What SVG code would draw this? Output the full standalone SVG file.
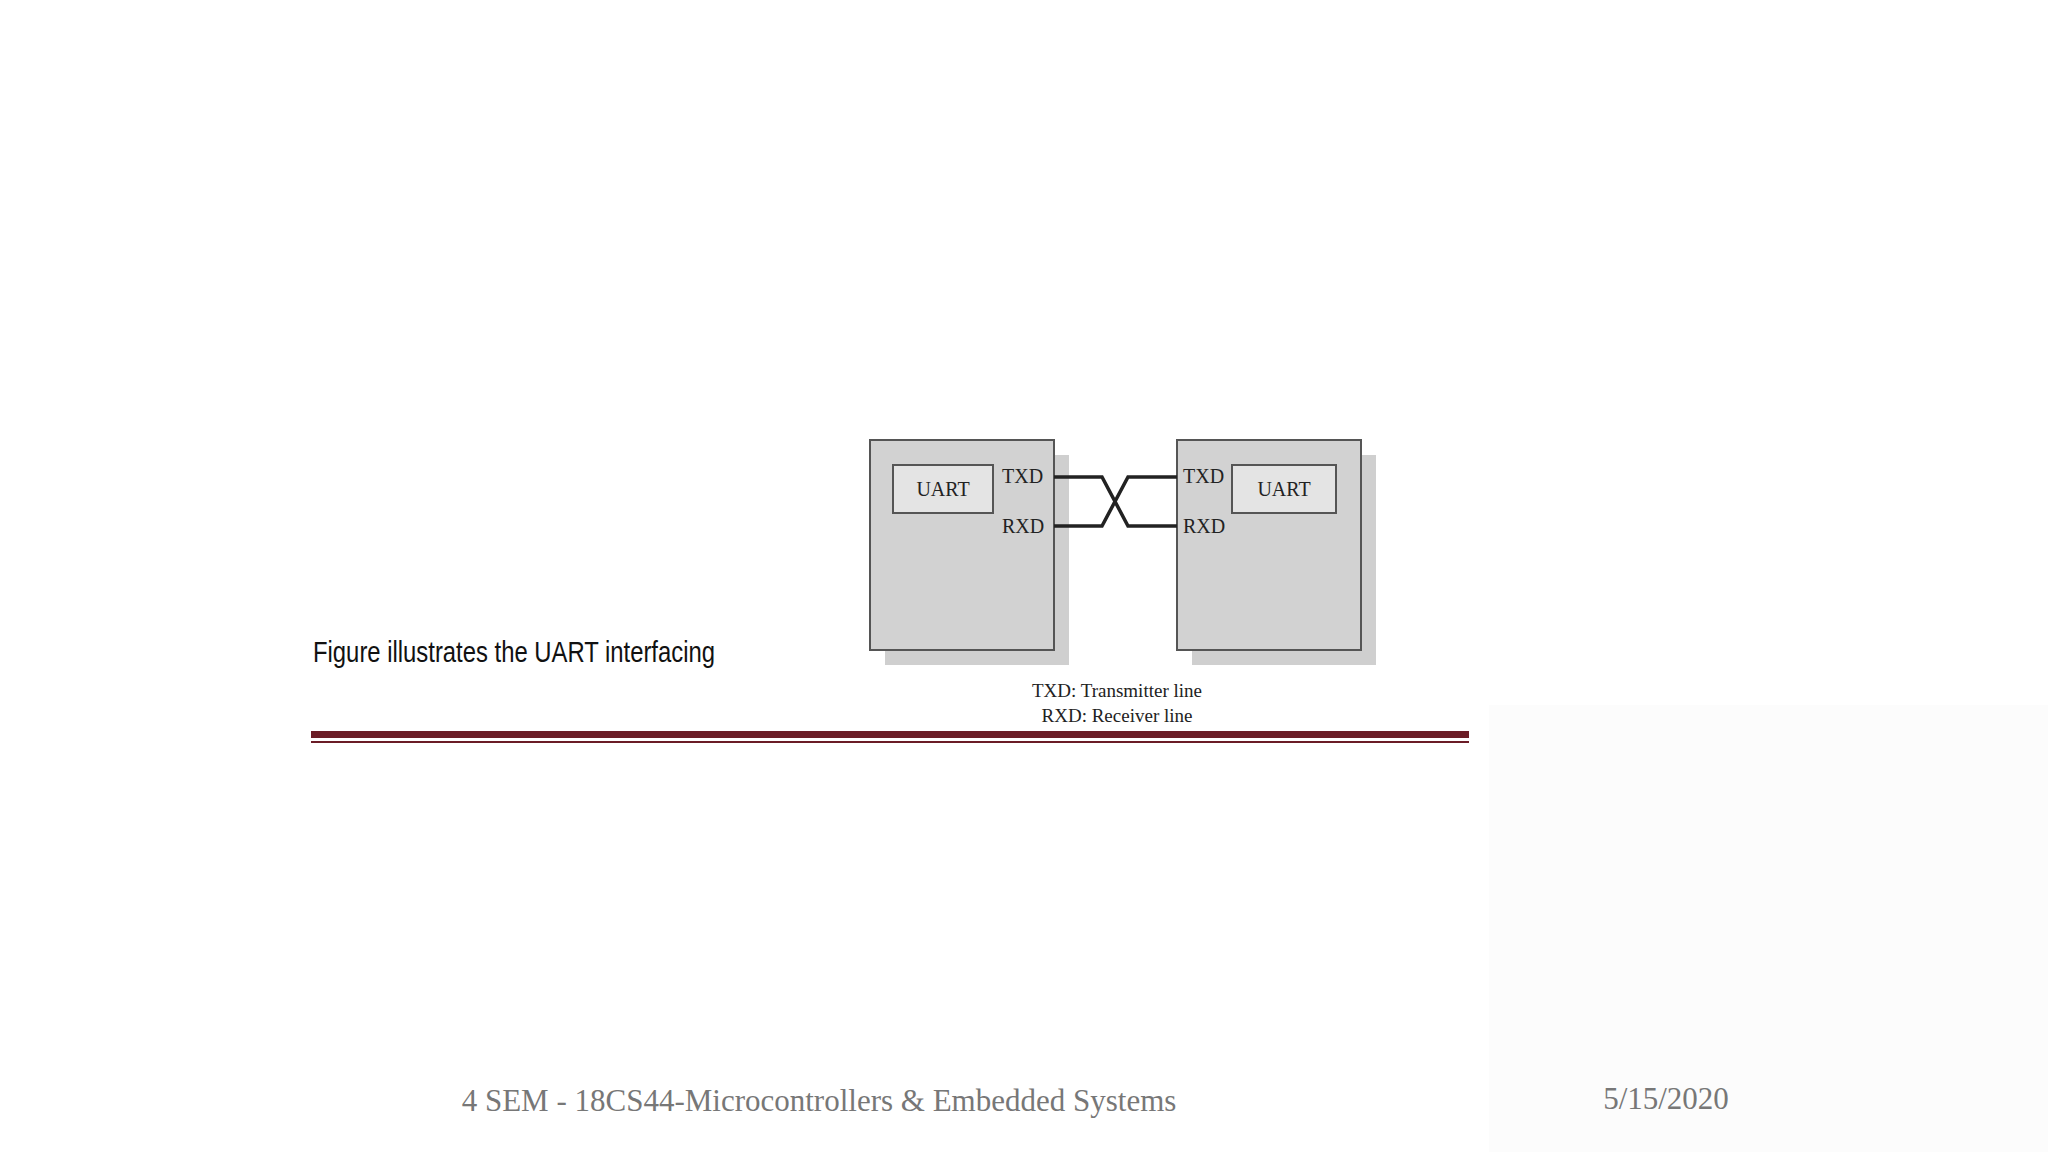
<svg xmlns="http://www.w3.org/2000/svg" width="2048" height="1152" viewBox="0 0 2048 1152">
<style>
.box{fill:#d2d2d2;stroke:#555;stroke-width:2}
.sh{fill:#cfcfcf}
.in{fill:#e4e4e4;stroke:#555;stroke-width:2}
.t{font-family:"Liberation Serif",serif;fill:#222}
.w{fill:none;stroke:#222;stroke-width:3.5}
</style>
<rect width="2048" height="1152" fill="#fff"/>
<rect x="1489" y="705" width="559" height="447" fill="#fcfcfc"/>
<text x="313" y="662" font-family="'Liberation Sans Narrow','Liberation Sans',sans-serif" font-size="29" fill="#111" textLength="402" lengthAdjust="spacingAndGlyphs">Figure illustrates the UART interfacing</text>
<g id="node-left">
<rect class="sh" x="885" y="455" width="184" height="210"/>
<rect class="box" x="870" y="440" width="184" height="210"/>
<rect class="in" x="893" y="465" width="100" height="48"/>
<text class="t" x="943" y="496" font-size="20" text-anchor="middle">UART</text>
<text class="t" x="1002" y="483" font-size="20">TXD</text>
<text class="t" x="1002" y="533" font-size="20">RXD</text>
</g>
<g id="node-right">
<rect class="sh" x="1192" y="455" width="184" height="210"/>
<rect class="box" x="1177" y="440" width="184" height="210"/>
<rect class="in" x="1232" y="465" width="104" height="48"/>
<text class="t" x="1284" y="496" font-size="20" text-anchor="middle">UART</text>
<text class="t" x="1183" y="483" font-size="20">TXD</text>
<text class="t" x="1183" y="533" font-size="20">RXD</text>
</g>
<g id="connectors">
<polyline class="w" points="1054,477 1102,477 1128,526 1177,526"/>
<polyline class="w" points="1054,526 1102,526 1128,477 1177,477"/>
</g>
<text class="t" x="1117" y="697" font-size="19" text-anchor="middle">TXD: Transmitter line</text>
<text class="t" x="1117" y="722" font-size="19" text-anchor="middle">RXD: Receiver line</text>
<rect x="311" y="731" width="1158" height="7" fill="#6b1c26"/>
<rect x="311" y="741" width="1158" height="2" fill="#6b1c26"/>
<text x="819" y="1111" font-family="'Liberation Serif',serif" font-size="31" fill="#777" text-anchor="middle">4 SEM - 18CS44-Microcontrollers &amp; Embedded Systems</text>
<text x="1666" y="1109" font-family="'Liberation Serif',serif" font-size="31" fill="#777" text-anchor="middle">5/15/2020</text>
</svg>
